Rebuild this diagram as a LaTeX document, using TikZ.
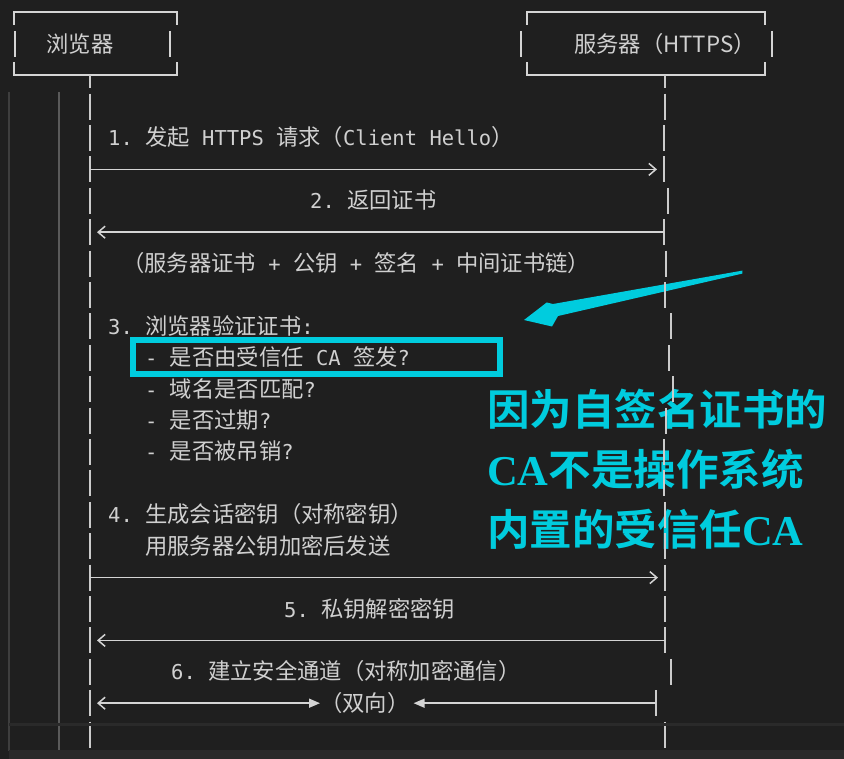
\documentclass[tikz,border=0pt]{standalone}
\usepackage{fontspec}
\setmainfont{DejaVu Sans Mono}
\newfontfamily\zhfont{Noto Sans CJK SC}[BoldFont={Noto Sans CJK SC Bold}]
\newfontfamily\cafont{Liberation Serif}
\usetikzlibrary{arrows.meta}

\definecolor{termbg}{RGB}{31,31,31}
\definecolor{termtext}{RGB}{208,208,208}
\definecolor{termline}{RGB}{212,212,212}
\definecolor{gutterdark}{RGB}{62,62,62}
\definecolor{gutterlight}{RGB}{90,90,90}
\definecolor{panelbar}{RGB}{42,42,42}
\definecolor{markcyan}{RGB}{0,204,222}

\newcommand\zh[1]{{\zhfont\fontsize{22.3}{26}\selectfont #1}}

\tikzset{
  boxline/.style={termline, line width=1.5pt},
  lifeline/.style={termline!90!gray, line width=1.4pt},
  msg/.style={termline, line width=1.5pt, -{Straight Barb[length=7pt,width=12pt]}},
  txt/.style={anchor=base west, inner sep=0pt, text=termtext, font=\fontsize{20.5}{24}\selectfont},
  label/.style={inner sep=0pt, text=termtext, font=\zhfont\fontsize{22.3}{26}\selectfont},
  note/.style={anchor=base west, inner sep=0pt, text=markcyan, font=\fontsize{42.5}{48}\selectfont\bfseries}
}

\begin{document}
\frenchspacing
\begin{tikzpicture}[x=1pt,y=-1pt]
  % Background
  \fill[termbg] (0,0) rectangle (844,759);
  \useasboundingbox (0,0) rectangle (844,759);

  % Gutter
  \draw[gutterdark, line width=1.5pt] (9,92) -- (9,751);
  \draw[gutterlight, line width=1.5pt] (59,92) -- (59,751);
  \fill[panelbar] (9,750) rectangle (844,759);

  % Participants
  \foreach \l/\r/\ml/\mr in {14/177/15/170, 527/765/521/772}
    \draw[boxline] (\l,25) |- (\r,12) -- (\r,25)
                   (\l,62) |- (\r,75) -- (\r,62)
                   (\ml,31) -- (\ml,57) (\mr,31) -- (\mr,57);
  \node[label] (browser) at (80,44) {浏览器};
  \node[label] (server) at (665,44) {服务器（HTTPS）};

  % Note
  \draw[markcyan, line width=6pt] (133,340) rectangle (500,374);
  \fill[markcyan] (742.5,270.6) -- (553,304) -- (546.7,302.5) -- (524,320)
                  -- (552,326.5) -- (558,316) -- (742.3,273.6) -- cycle;
  \node[note] (note1) at (487,425.6) {\zhfont\bfseries 因为自签名证书的};
  \node[note] (note2) at (487,485) {{\cafont\bfseries CA}\zhfont\bfseries 不是操作系统};
  \node[note] (note3) at (487,545.6) {{\zhfont\bfseries 内置的受信任}{\cafont\bfseries CA}};

  % Lifelines
  \draw[lifeline] (90,75) -- (90,88) (665,75) -- (665,88);
  \foreach \r/\sx in {-1/665,0/664,1/664,2/668,3/664,4/666,5/665,6/671,7/669,
                      8/673,9/666,10/664,11/664,12/665,13/665,14/665,15/665,
                      16/665,17/671,18/656,19/665}
  {
    \coordinate (b\r) at (90,{138+31.4*(\r)});
    \coordinate (s\r) at (\sx,{138+31.4*(\r)});
    \draw[lifeline] ([yshift=13pt]b\r) -- ([yshift=-13pt]b\r)
                    ([yshift=13pt]s\r) -- ([yshift=-13pt]s\r);
  }
  \fill[panelbar] (9,723) rectangle (844,725.5);

  % Messages
  \draw[msg, shorten >=7pt] (b1) -- (s1);
  \draw[msg, shorten >=7pt] (s3) -- (b3);
  \draw[msg, shorten >=7pt] (b14) -- (s14);
  \draw[msg, shorten >=7pt] (s16) -- (b16);
  \node[label, anchor=base west] (bidir) at (320,711.2) {（双向）};
  \draw[termline, line width=1.5pt, {Straight Barb[length=7pt,width=12pt]}-{Triangle[length=11pt,width=9pt]},
        shorten <=7pt] (b18) -- (b18 -| bidir.west);
  \draw[termline, line width=1.5pt, -{Triangle[length=11pt,width=9pt]}]
        (s18) -- ([xshift=4pt]s18 -| bidir.east);

  % Texts
  \node[txt] (t1) at (108,146) {1. \zh{发起} HTTPS \zh{请求（}Client Hello\zh{）}};
  \node[txt] (t2) at (310,208.8) {2. \zh{返回证书}};
  \node[txt] (t2b) at (122,271.6) {\zh{（服务器证书} + \zh{公钥} + \zh{签名} + \zh{中间证书链）}};
  \node[txt] (t3) at (108,334.4) {3. \zh{浏览器验证证书}:};
  \node[txt] (t3a) at (145,365.8) {- \zh{是否由受信任} CA \zh{签发}?};
  \node[txt] (t3b) at (145,397.2) {- \zh{域名是否匹配}?};
  \node[txt] (t3c) at (145,428.6) {- \zh{是否过期}?};
  \node[txt] (t3d) at (145,460) {- \zh{是否被吊销}?};
  \node[txt] (t4) at (108,522.8) {4. \zh{生成会话密钥（对称密钥）}};
  \node[txt] (t4b) at (145,554.2) {\zh{用服务器公钥加密后发送}};
  \node[txt] (t5) at (284,617) {5. \zh{私钥解密密钥}};
  \node[txt] (t6) at (171,679.8) {6. \zh{建立安全通道（对称加密通信）}};
\end{tikzpicture}
\end{document}
